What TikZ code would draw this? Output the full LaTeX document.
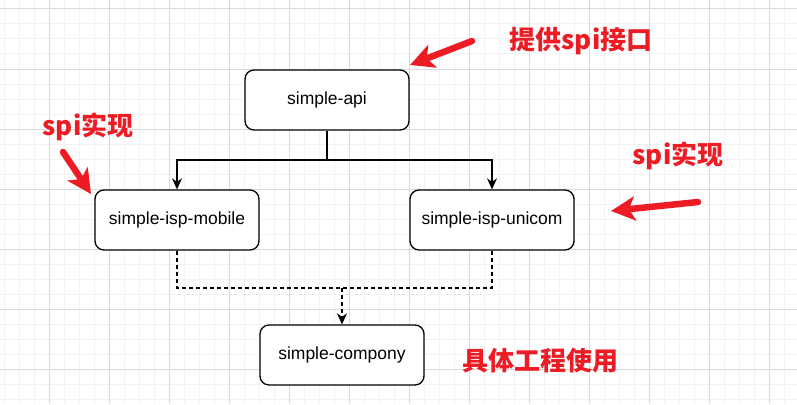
\documentclass[tikz,border=0pt]{standalone}
\usepackage{fontspec}
\setmainfont{Liberation Sans}
\newfontfamily\cjk{Noto Sans CJK SC}
\usetikzlibrary{arrows.meta}
\definecolor{redone}{RGB}{237,28,36}
\definecolor{gridmajor}{RGB}{218,218,218}
\definecolor{gridminor}{RGB}{242,242,242}
\tikzset{
  box/.style={draw, line width=1.3pt, rounded corners=9pt, minimum width=164pt, minimum height=60pt,
    font=\fontsize{17.5}{20}\selectfont, inner sep=0pt, fill=white},
  conn/.style={line width=1.3pt, -{Stealth[length=11pt,width=10pt,inset=3.5pt]}},
  dline/.style={line width=1.3pt, dash pattern=on 4pt off 3pt},
  dconn/.style={dline, -{Stealth[length=11pt,width=10pt,inset=3.5pt]}},
  lbl/.style={text=redone, font=\cjk\bfseries\fontsize{26}{30}\selectfont, inner sep=0pt},
  redarr/.style={draw=redone, line width=6.5pt, line cap=round, -{Stealth[length=24pt,width=24pt,inset=6pt]}},
  minorline/.style={draw=gridminor, line width=1pt},
  majorline/.style={draw=gridmajor, line width=1pt}
}
\begin{document}
\begin{tikzpicture}[x=1pt,y=-1pt]
\useasboundingbox (0,0) rectangle (797,404);
\fill[white] (0,0) rectangle (797,404);
% grid
\foreach \x in {4,19,...,797} \draw[minorline] (\x,0) -- (\x,404);
\foreach \y in {9,24,...,404} \draw[minorline] (0,\y) -- (797,\y);
\foreach \x in {49,109,...,797} \draw[majorline] (\x,0) -- (\x,404);
\foreach \y in {9,69,...,404} \draw[majorline] (0,\y) -- (797,\y);
% boxes
\node[box] (api) at (327,100) {simple-api};
\node[box] (mob) at (177,220) {simple-isp-mobile};
\node[box] (uni) at (492,220) {simple-isp-unicom};
\node[box] (comp) at (342,355) {simple-compony};
% connectors
\coordinate (j1) at (327,160);
\draw[conn] (api.south) -- (j1) -| (mob.north);
\draw[conn] (j1) -| (uni.north);
\coordinate (j2) at (342,288);
\draw[dline] (mob.south) |- (j2);
\draw[dline] (uni.south) |- (j2);
\draw[dconn] (j2) -- (comp.north);
% labels
\node[lbl] (l1) at (581,41) {提供spi接口};
\node[lbl] (l2) at (678,156) {spi实现};
\node[lbl] (l3) at (88,127) {spi实现};
\node[lbl] (l4) at (540,361) {具体工程使用};
% red arrows
\coordinate (a1s) at (472,41);
\coordinate (a1e) at (410,65);
\coordinate (a2s) at (63,152);
\coordinate (a2e) at (91,194);
\coordinate (a3s) at (698,202);
\coordinate (a3e) at (611,211);
\draw[redarr] (a1s) -- (a1e);
\draw[redarr] (a2s) -- (a2e);
\draw[redarr] (a3s) -- (a3e);
\end{tikzpicture}
\end{document}
